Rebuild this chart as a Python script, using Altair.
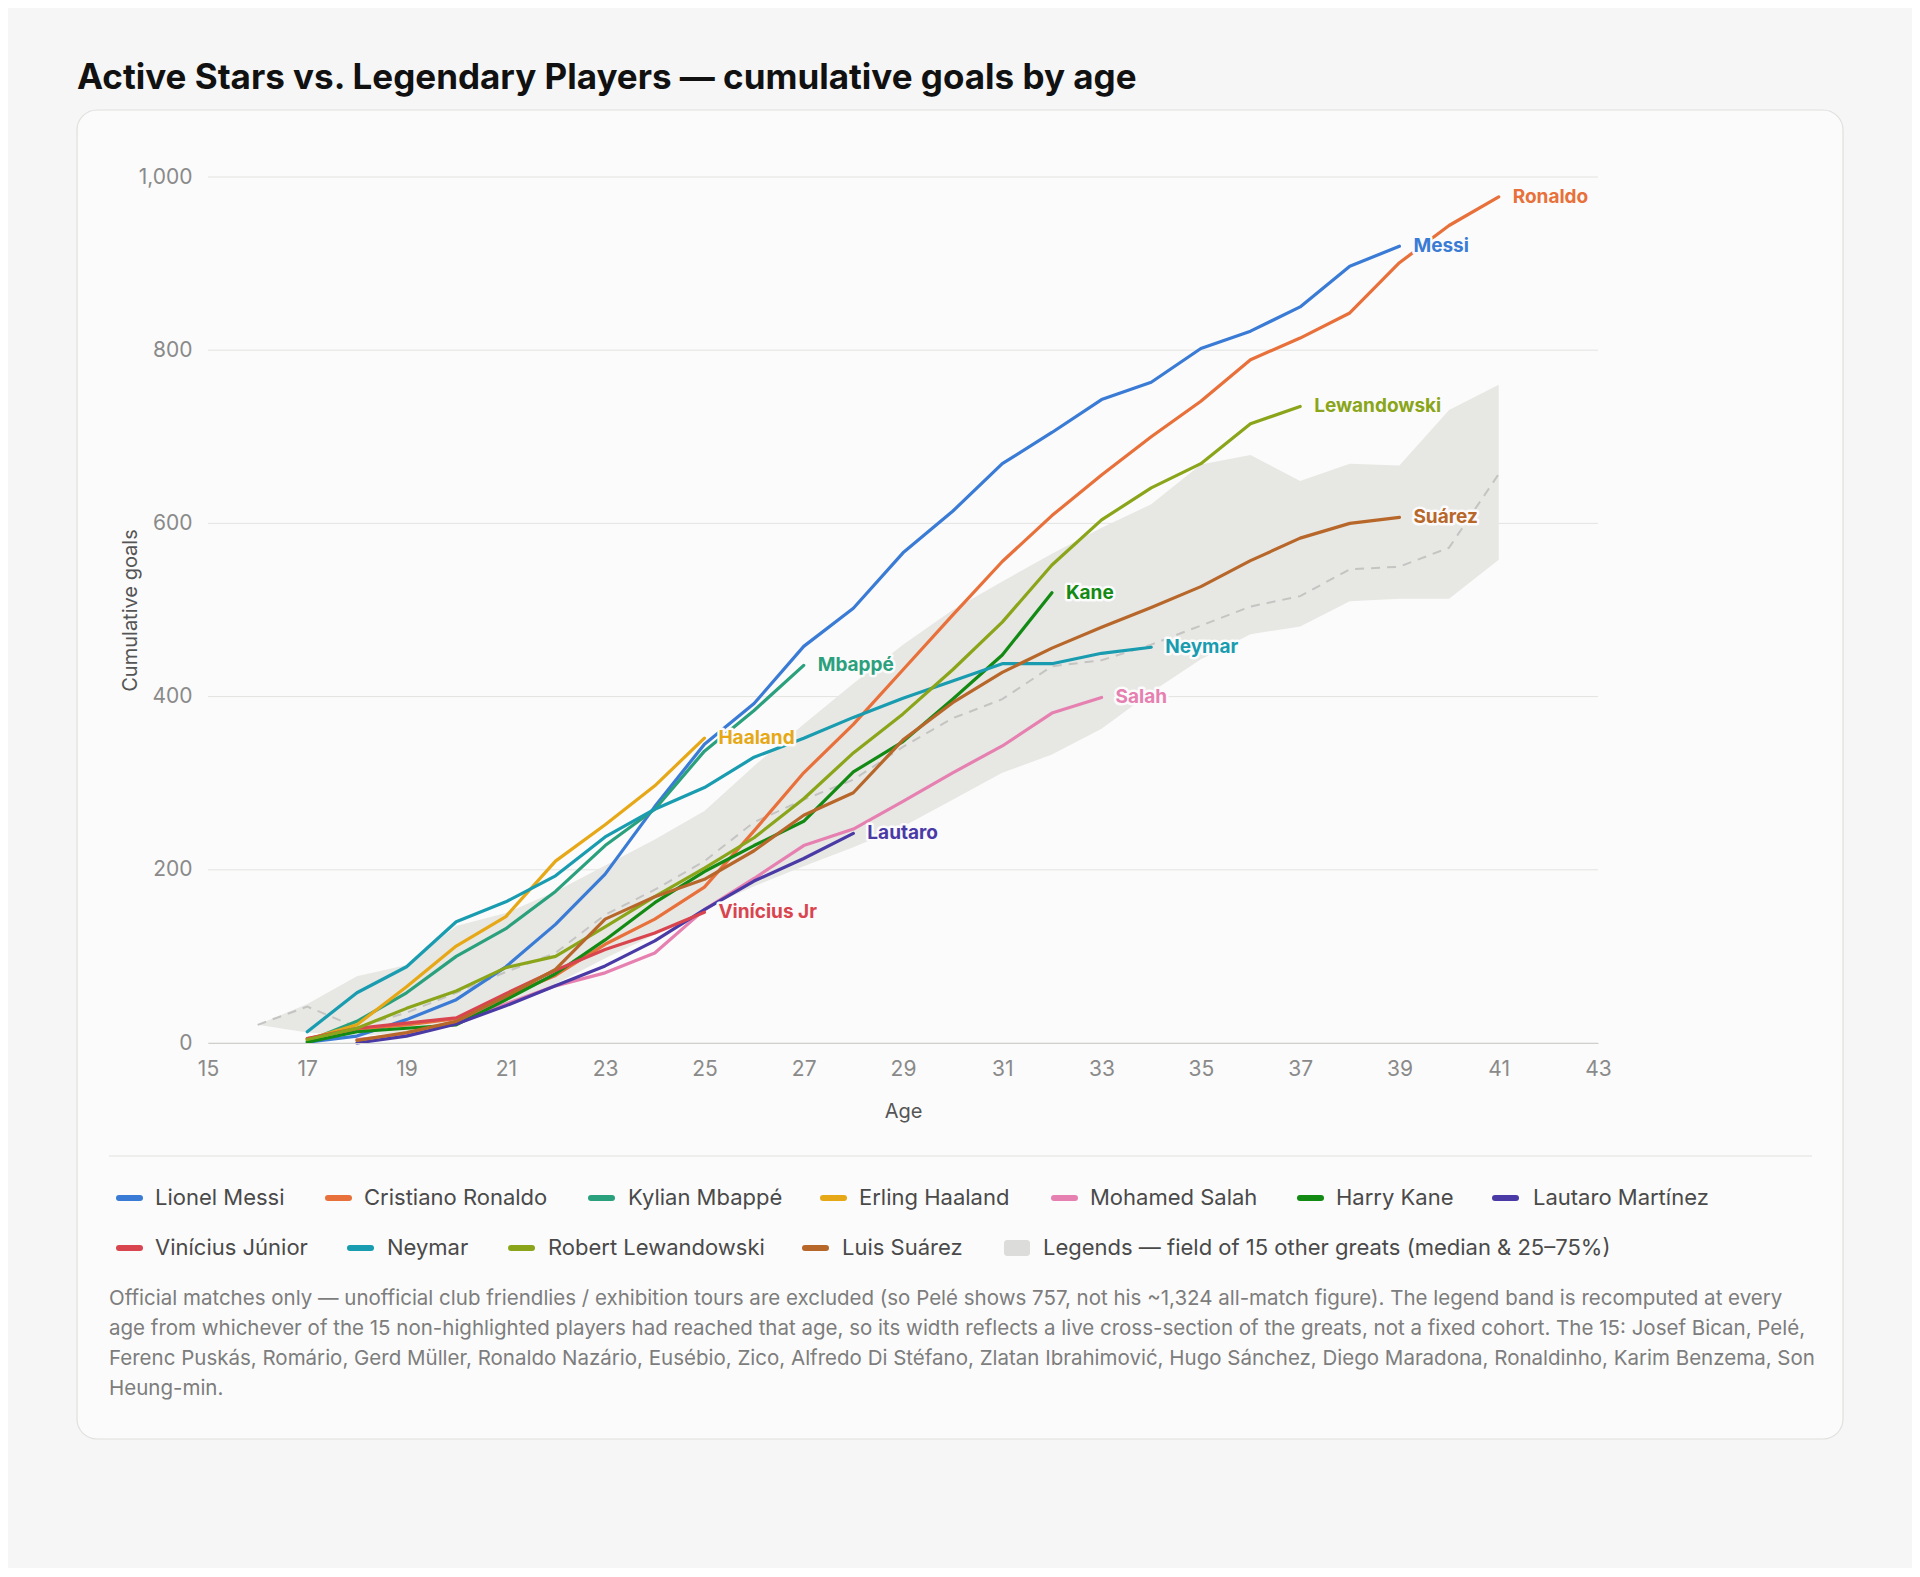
import altair as alt
import pandas as pd

FONT = "Inter"

# ---------------- data ----------------
PLAYERS = ["Lionel Messi", "Cristiano Ronaldo", "Kylian Mbappé", "Erling Haaland",
           "Mohamed Salah", "Harry Kane", "Lautaro Martínez", "Vinícius Júnior",
           "Neymar", "Robert Lewandowski", "Luis Suárez"]
SHORT = ["Messi", "Ronaldo", "Mbappé", "Haaland", "Salah", "Kane", "Lautaro",
         "Vinícius Jr", "Neymar", "Lewandowski", "Suárez"]
COLORS = ["#3a7bd5", "#e8703a", "#2aa07d", "#e6a817", "#e680b0", "#138a13",
          "#4a3aa5", "#d9454f", "#199cb0", "#8aa51a", "#b8672a"]
START_AGE = [17, 17, 17, 17, 18, 17, 18, 17, 17, 17, 18]

MESSI = [1, 8, 27, 50, 88, 137, 195, 273, 345, 392, 458, 502, 566, 614, 669, 705,
         743, 763, 802, 822, 850, 897, 920]
RONALDO = [5, 16, 21, 28, 54, 78, 114, 143, 180, 245, 312, 368, 431, 494, 556, 609,
           656, 700, 741, 789, 814, 843, 901, 944, 977]
MBAPPE = [2, 25, 58, 100, 132, 175, 228, 270, 337, 384, 436]
HAALAND = [4, 21, 65, 112, 146, 210, 252, 297, 352]
SALAH = [4, 10, 25, 45, 66, 81, 104, 154, 190, 228, 247, 279, 312, 343, 381, 399]
KANE = [1, 13, 17, 21, 50, 80, 119, 162, 198, 228, 256, 313, 348, 397, 448, 520]
LAUTARO = [0, 8, 22, 43, 66, 89, 118, 154, 187, 213, 242]
VINICIUS = [5, 17, 23, 29, 57, 84, 108, 127, 151]
NEYMAR = [13, 58, 88, 140, 163, 193, 238, 270, 295, 330, 352, 376, 398, 418, 438,
          438, 450, 457]
LEWANDOWSKI = [4, 17, 40, 60, 87, 100, 134, 169, 202, 237, 282, 335, 380, 431, 486,
               552, 604, 641, 669, 715, 735]
SUAREZ = [3, 12, 25, 54, 85, 143, 169, 189, 222, 263, 289, 350, 393, 428, 456, 480,
          503, 527, 557, 583, 600, 607]
GOALS = [MESSI, RONALDO, MBAPPE, HAALAND, SALAH, KANE, LAUTARO, VINICIUS, NEYMAR,
         LEWANDOWSKI, SUAREZ]

BAND_AGES = list(range(16, 42))
BAND_MED = [21, 42, 18, 35, 58, 82, 104, 148, 177, 210, 255, 281, 304, 342, 375, 397,
            435, 442, 460, 482, 504, 516, 547, 550, 572, 657]
BAND_HI = [21, 45, 77, 90, 135, 150, 175, 205, 235, 268, 320, 368, 415, 460, 500, 533,
           565, 595, 622, 668, 679, 649, 669, 667, 731, 760]
BAND_LO = [21, 12, 8, 12, 25, 44, 68, 98, 125, 155, 181, 204, 226, 250, 281, 312, 333,
           363, 405, 443, 472, 481, 510, 513, 513, 558]

X_TICKS = list(range(15, 44, 2))
Y_TICKS = [0, 200, 400, 600, 800, 1000]

TITLE = "Active Stars vs. Legendary Players — cumulative goals by age"
BAND_LEGEND = "Legends — field of 15 other greats (median & 25–75%)"
FOOTNOTE = [
    "Official matches only — unofficial club friendlies / exhibition tours are excluded (so Pelé shows 757, not his ~1,324 all-match figure). The legend band is recomputed at every",
    "age from whichever of the 15 non-highlighted players had reached that age, so its width reflects a live cross-section of the greats, not a fixed cohort. The 15: Josef Bican, Pelé,",
    "Ferenc Puskás, Romário, Gerd Müller, Ronaldo Nazário, Eusébio, Zico, Alfredo Di Stéfano, Zlatan Ibrahimović, Hugo Sánchez, Diego Maradona, Ronaldinho, Karim Benzema, Son",
    "Heung-min.",
]

# ---------------- tables ----------------
rows = []
for p, a0, g in zip(PLAYERS, START_AGE, GOALS):
    for i, v in enumerate(g):
        rows.append({"player": p, "age": a0 + i, "goals": v})
df = pd.DataFrame(rows)
short_map = dict(zip(PLAYERS, SHORT))
last = df.groupby("player", sort=False).tail(1).copy()
last["label"] = last["player"].map(short_map)
band = pd.DataFrame({"age": BAND_AGES, "lo": BAND_LO, "hi": BAND_HI, "med": BAND_MED})
grid = pd.DataFrame({"v": Y_TICKS})
ONE = pd.DataFrame({"k": [0]})

# ---------------- layout constants (pixels, relative to plot origin) ----------------
W, H = 1390, 866
CARD_BG = "#fbfbfb"
PAGE_BG = "#f6f6f6"

x_scale = alt.Scale(domain=[15, 43], nice=False, zero=False)
y_scale = alt.Scale(domain=[0, 1000], nice=False)
x_axis = alt.Axis(values=X_TICKS, title="Age", grid=False, ticks=False, tickSize=0,
                  domain=True, domainColor="#cfcfcd", domainWidth=1, zindex=1,
                  labelFlush=False, labelOverlap=False,
                  labelColor="#8a8a8a", labelFontSize=21, labelPadding=15, labelFont=FONT,
                  titleFont=FONT, titleFontSize=20, titleColor="#555555",
                  titleFontWeight="normal", titleX=W / 2, titleY=68,
                  titleBaseline="middle", titleAlign="center")
y_axis = alt.Axis(values=Y_TICKS, format=",.0f", title="Cumulative goals", grid=False,
                  ticks=False, tickSize=0, domain=False, zindex=1,
                  labelFlush=False, labelOverlap=False,
                  labelColor="#8a8a8a", labelFontSize=21, labelPadding=16, labelFont=FONT,
                  titleFont=FONT, titleFontSize=20, titleColor="#555555",
                  titleFontWeight="normal", titleX=-78, titleY=H / 2, titleAngle=270,
                  titleBaseline="middle", titleAlign="center")

X = alt.X("age:Q", scale=x_scale, axis=x_axis)
color = alt.Color("player:N", scale=alt.Scale(domain=PLAYERS, range=COLORS), legend=None)

layers = []

# card
layers.append(alt.Chart(ONE).mark_rect(cornerRadius=20, fill=CARD_BG, stroke="#e0e0de",
                                       strokeWidth=1.2).encode(
    x=alt.value(-131), x2=alt.value(1635), y=alt.value(-67), y2=alt.value(1262)))

# horizontal gridlines
layers.append(alt.Chart(grid).mark_rule(color="#e3e3e1", strokeWidth=1).encode(
    y=alt.Y("v:Q", scale=y_scale, axis=y_axis)))

# band + median
layers.append(alt.Chart(band).mark_area(color="#e7e7e4", opacity=1).encode(
    x=X, y=alt.Y("lo:Q", scale=y_scale, axis=y_axis), y2="hi:Q"))
layers.append(alt.Chart(band).mark_line(color="#c4c4c2", strokeWidth=2,
                                        strokeDash=[9, 7]).encode(
    x=X, y=alt.Y("med:Q", scale=y_scale, axis=y_axis)))

# player lines
layers.append(alt.Chart(df).mark_line(strokeWidth=3.2, strokeJoin="round",
                                      strokeCap="round").encode(
    x=X, y=alt.Y("goals:Q", scale=y_scale, axis=y_axis), color=color))

# end labels with halo
layers.append(alt.Chart(last).mark_text(align="left", baseline="middle", dx=14,
                                        font=FONT, fontSize=19, fontWeight="bold",
                                        fill=CARD_BG, stroke=CARD_BG, strokeWidth=5,
                                        strokeJoin="round").encode(
    x=X, y=alt.Y("goals:Q", scale=y_scale, axis=y_axis), text="label:N"))
layers.append(alt.Chart(last).mark_text(align="left", baseline="middle", dx=14,
                                        font=FONT, fontSize=19, fontWeight="bold").encode(
    x=X, y=alt.Y("goals:Q", scale=y_scale, axis=y_axis), text="label:N", color=color))

# title
layers.append(alt.Chart(ONE).mark_text(align="left", baseline="alphabetic", font=FONT,
                                       fontSize=35, fontWeight="bold", color="#111111",
                                       text=TITLE).encode(
    x=alt.value(-131), y=alt.value(-88)))

# separator
layers.append(alt.Chart(ONE).mark_rule(color="#e2e2e0", strokeWidth=1.2).encode(
    x=alt.value(-99), x2=alt.value(1604), y=alt.value(979)))

# legend (layout positions)
ROW_Y = [1021, 1071]
LEG_ROW = [0, 0, 0, 0, 0, 0, 0, 1, 1, 1, 1]
LEG_SYM_X = [-92, 117, 380, 612, 843, 1089, 1284, -92, 139, 300, 594]
LEG_TXT_X = [-53, 156, 420, 651, 882, 1128, 1325, -53, 179, 340, 634]
for i, p in enumerate(PLAYERS):
    yy = ROW_Y[LEG_ROW[i]]
    layers.append(alt.Chart(ONE).mark_rule(color=COLORS[i], strokeWidth=6,
                                           strokeCap="round").encode(
        x=alt.value(LEG_SYM_X[i] + 3), x2=alt.value(LEG_SYM_X[i] + 24), y=alt.value(yy)))
    layers.append(alt.Chart(ONE).mark_text(align="left", baseline="middle", font=FONT,
                                           fontSize=22, color="#4a4a4a", text=p).encode(
        x=alt.value(LEG_TXT_X[i]), y=alt.value(yy)))
layers.append(alt.Chart(ONE).mark_rect(cornerRadius=3, color="#dcdcda").encode(
    x=alt.value(796), x2=alt.value(822), y=alt.value(ROW_Y[1] - 8), y2=alt.value(ROW_Y[1] + 8)))
layers.append(alt.Chart(ONE).mark_text(align="left", baseline="middle", font=FONT,
                                       fontSize=22, color="#4a4a4a", text=BAND_LEGEND).encode(
    x=alt.value(835), y=alt.value(ROW_Y[1])))

# footnote
for i, line in enumerate(FOOTNOTE):
    layers.append(alt.Chart(ONE).mark_text(align="left", baseline="middle", font=FONT,
                                           fontSize=20.5, color="#7d7d7d", text=line).encode(
        x=alt.value(-99), y=alt.value(1122 + 30 * i)))

chart = alt.layer(*layers).properties(
    width=W, height=H,
    padding={"left": 200, "top": 169, "right": 314, "bottom": 525},
    autosize=alt.AutoSizeParams(type="none"),
    background=PAGE_BG,
).configure(font=FONT).configure_view(stroke=None)

chart.save("out.html", embed_options={"renderer": "svg", "actions": False})
